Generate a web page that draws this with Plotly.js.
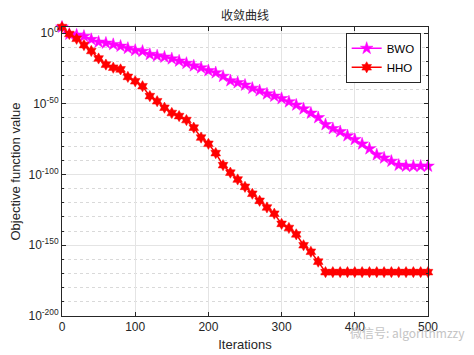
<!DOCTYPE html>
<html><head><meta charset="utf-8">
<script src="https://cdn.plot.ly/plotly-3.0.1.min.js"></script>
<style>html,body{margin:0;padding:0;background:#fff}#chart{width:474px;height:355px}</style>
</head><body><div id="chart"></div>
<script>
const iterations = [0,10,20,30,40,50,60,70,80,90,100,110,120,130,140,150,160,170,180,190,200,
  210,220,230,240,250,260,270,280,290,300,310,320,330,340,350,360,370,380,390,400,
  410,420,430,440,450,460,470,480,490,500];
const bwoValues = [1.6e4,1.6e-1,4e-2,5e-3,3e-5,4e-7,8e-8,8e-9,5e-10,1.6e-11,6e-13,
  1.3e-13,8e-16,8e-17,1e-17,6e-19,1.6e-20,4e-22,6e-24,2.5e-25,2.5e-27,
  8e-29,2.5e-31,2e-34,8e-36,1.6e-37,1e-39,1.6e-41,1e-43,2.5e-45,5e-47,
  2.5e-49,1.3e-51,2.5e-54,2.5e-57,1.6e-60,2e-65,3e-68,2e-70,2.5e-73,6e-76,
  4e-79,1.6e-82,8e-87,5e-89,2.5e-91,4e-94,8e-95,8e-95,8e-95,8e-95];
const hhoValues = [1.6e4,2e-1,8e-5,3e-9,2e-13,1e-18,5e-23,3e-25,2e-26,1e-31,8e-35,
  2.5e-38,2.5e-45,6e-49,1.6e-53,3e-57,2e-59,3e-62,1.3e-67,1.3e-74,5e-79,
  1.3e-85,4e-94,2e-99,3e-104,2e-109,2.5e-114,2.5e-119,5e-124,2e-128,1.3e-135,
  1.6e-138,5e-143,1e-150,2.5e-155,2.5e-162,1e-169,1e-169,1e-169,1e-169,1e-169,
  1e-169,1e-169,1e-169,1e-169,1e-169,1e-169,1e-169,1e-169,1e-169,1e-169];
const seriesNames = ['BWO','HHO'];
const xTickVals = [0,100,200,300,400,500];
const yTickVals = [1,1e-50,1e-100,1e-150,1e-200];
const yTickText = ['10<sup>0</sup>','10<sup>-50</sup>','10<sup>-100</sup>','10<sup>-150</sup>','10<sup>-200</sup>'];
const yMinorExp = [-10,-20,-30,-40,-60,-70,-80,-90,-110,-120,-130,-140,-160,-170,-180,-190];

const font = 'Liberation Sans, Arial, sans-serif';
const axCol = '#262626';

const traces = [
  {x: iterations, y: bwoValues, name: seriesNames[0], type:'scatter', mode:'lines+markers',
   line:{color:'#ff00ff', width:1.5},
   marker:{symbol:'star', size:9.5, color:'#ff00ff', line:{color:'#ff00ff', width:0.5}},
   cliponaxis:false},
  {x: iterations, y: hhoValues, name: seriesNames[1], type:'scatter', mode:'lines+markers',
   line:{color:'#ff0000', width:1.5},
   marker:{symbol:'hexagram', size:8.5, color:'#ff0000', line:{color:'#ff0000', width:0.5}},
   cliponaxis:false}
];

const layout = {
  width:474, height:355,
  margin:{l:62, r:45.5, t:27, b:39},
  paper_bgcolor:'#fff', plot_bgcolor:'#fff',
  font:{family:font, size:12, color:axCol},
  showlegend:true,
  title:{text:'收敛曲线', font:{family:'Noto Sans CJK SC, sans-serif', size:12, color:axCol},
         x:0.517, xanchor:'center', y:0.955, yanchor:'middle', yref:'container', xref:'container'},
  xaxis:{range:[0,500], tickmode:'array', tickvals:xTickVals, ticks:'inside', ticklen:4,
         tickcolor:axCol, showline:true, linecolor:axCol, linewidth:1, mirror:'ticks',
         showgrid:true, gridcolor:'#e4e4e4', gridwidth:1, zeroline:false,
         tickfont:{family:font, size:12, color:axCol},
         title:{text:'Iterations', font:{family:font, size:13, color:axCol}, standoff:6},
         automargin:false},
  yaxis:{type:'log', range:[-200, 4.25], tickmode:'array', tickvals:yTickVals, ticktext:yTickText,
         ticks:'inside', ticklen:4, tickcolor:axCol, showline:true, linecolor:axCol, linewidth:1,
         mirror:'ticks', showgrid:true, gridcolor:'#e4e4e4', gridwidth:1, zeroline:false,
         tickfont:{family:font, size:12, color:axCol},
         minor:{tickmode:'array', tickvals:yMinorExp.map(e=>Math.pow(10,e)), ticks:'inside', ticklen:2,
                tickcolor:axCol, showgrid:true, gridcolor:'#d9d9d9', griddash:'dot', gridwidth:1},
         title:{text:'Objective function value', font:{family:font, size:13, color:axCol}, standoff:4},
         automargin:false},
  legend:{x:0.98, xanchor:'right', y:0.98, yanchor:'top', bgcolor:'#fff',
          bordercolor:axCol, borderwidth:1, font:{family:font, size:11.5, color:'#000'},
          itemwidth:30, tracegroupgap:0},
  annotations:[{text:'微信号: algorithmzzy', xref:'paper', yref:'paper', x:0.945, y:-0.058,
    xanchor:'center', yanchor:'middle', showarrow:false,
    font:{family:'Noto Sans CJK SC, sans-serif', size:12, color:'#c4c4c4'}}]
};

Plotly.newPlot('chart', traces, layout, {staticPlot:true, displayModeBar:false});
</script>
</body></html>
